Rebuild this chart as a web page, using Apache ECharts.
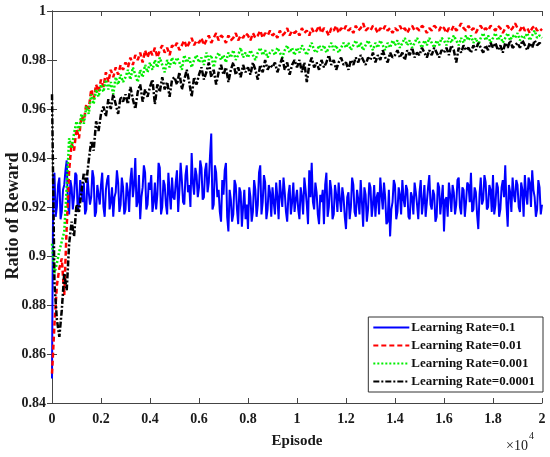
<!DOCTYPE html>
<html>
<head>
<meta charset="utf-8">
<script src="https://cdn.jsdelivr.net/npm/echarts@6/dist/echarts.min.js"></script>
<style>html,body{margin:0;padding:0;background:#fff;}#c{width:550px;height:457px;}</style>
</head>
<body>
<div id="c"></div>
<script>
// Sample episodes: blue curve every 50 episodes, others every 100 episodes
const episodesFine = [];
for (let i = 0; i <= 400; i++) episodesFine.push(i * 50);
const episodes = [];
for (let i = 0; i <= 200; i++) episodes.push(i * 100);

const seriesNames = ['Learning Rate=0.1', 'Learning Rate=0.01', 'Learning Rate=0.001', 'Learning Rate=0.0001'];

const lr01 = [
0.850,0.931,0.934,0.916,0.920,0.929,0.932,0.915,0.918,0.927,0.929,0.935,0.939,0.921,0.917,0.931,0.928,0.919,0.924,0.934,
0.933,0.918,0.921,0.931,0.927,0.922,0.930,0.917,0.919,0.932,0.926,0.921,0.924,0.935,0.932,0.916,0.918,0.929,0.925,0.921,
0.929,0.934,0.920,0.916,0.927,0.931,0.933,0.919,0.922,0.928,0.916,0.924,0.926,0.935,0.930,0.918,0.921,0.932,0.928,0.917,
0.919,0.930,0.926,0.918,0.931,0.936,0.924,0.929,0.940,0.920,0.922,0.933,0.915,0.924,0.928,0.937,0.934,0.919,0.921,0.930,
0.927,0.933,0.918,0.922,0.930,0.919,0.925,0.938,0.936,0.917,0.920,0.931,0.929,0.921,0.917,0.934,0.926,0.919,0.932,0.924,
0.923,0.930,0.935,0.918,0.927,0.938,0.931,0.922,0.921,0.933,0.937,0.926,0.929,0.920,0.942,0.930,0.925,0.936,0.933,0.924,
0.928,0.939,0.936,0.923,0.924,0.935,0.938,0.926,0.930,0.941,0.950,0.919,0.921,0.937,0.934,0.924,0.927,0.918,0.914,0.931,
0.925,0.935,0.938,0.916,0.910,0.927,0.923,0.914,0.917,0.931,0.929,0.919,0.913,0.928,0.926,0.912,0.920,0.927,0.915,0.921,
0.911,0.928,0.924,0.914,0.918,0.931,0.927,0.916,0.921,0.934,0.937,0.917,0.922,0.933,0.930,0.915,0.919,0.929,0.926,0.916,
0.928,0.922,0.917,0.930,0.924,0.915,0.931,0.925,0.920,0.932,0.926,0.918,0.914,0.925,0.929,0.917,0.922,0.930,0.918,0.923,
0.927,0.919,0.915,0.928,0.924,0.917,0.932,0.927,0.921,0.913,0.935,0.924,0.938,0.922,0.919,0.930,0.926,0.917,0.913,0.925,
0.922,0.927,0.913,0.929,0.934,0.916,0.920,0.931,0.927,0.915,0.917,0.929,0.925,0.918,0.930,0.923,0.918,0.928,0.924,0.916,
0.911,0.924,0.926,0.915,0.920,0.932,0.929,0.918,0.916,0.927,0.923,0.917,0.931,0.922,0.912,0.928,0.925,0.914,0.919,0.930,
0.928,0.916,0.921,0.929,0.916,0.924,0.926,0.917,0.932,0.925,0.919,0.930,0.924,0.913,0.914,0.927,0.908,0.919,0.922,0.931,
0.929,0.915,0.918,0.928,0.925,0.917,0.931,0.923,0.920,0.929,0.927,0.916,0.915,0.926,0.924,0.917,0.930,0.926,0.921,0.915,
0.926,0.931,0.917,0.922,0.929,0.916,0.922,0.928,0.933,0.921,0.919,0.927,0.925,0.914,0.916,0.930,0.928,0.917,0.923,0.929,
0.910,0.923,0.924,0.916,0.930,0.925,0.918,0.929,0.926,0.917,0.921,0.931,0.932,0.920,0.917,0.928,0.927,0.916,0.922,0.930,
0.929,0.922,0.934,0.918,0.919,0.928,0.926,0.917,0.911,0.925,0.932,0.921,0.923,0.933,0.930,0.919,0.920,0.929,0.927,0.918,
0.933,0.917,0.921,0.930,0.928,0.916,0.919,0.928,0.931,0.924,0.937,0.921,0.912,0.929,0.926,0.918,0.932,0.925,0.922,0.931,
0.929,0.920,0.918,0.930,0.927,0.916,0.933,0.925,0.921,0.932,0.930,0.920,0.935,0.927,0.924,0.916,0.919,0.931,0.928,0.917,
0.921];

const lr001 = [
0.852,0.872,0.888,0.895,0.899,0.884,0.912,0.935,0.946,0.943,
0.952,0.948,0.957,0.955,0.962,0.960,0.968,0.964,0.970,0.967,
0.972,0.969,0.975,0.971,0.976,0.973,0.977,0.974,0.978,0.976,
0.979,0.977,0.981,0.978,0.982,0.980,0.983,0.979,0.984,0.981,
0.984,0.982,0.985,0.981,0.984,0.986,0.983,0.985,0.982,0.986,
0.985,0.987,0.984,0.986,0.988,0.985,0.987,0.989,0.986,0.988,
0.987,0.989,0.986,0.988,0.990,0.987,0.989,0.991,0.988,0.990,
0.989,0.987,0.990,0.988,0.989,0.991,0.988,0.990,0.989,0.991,
0.990,0.988,0.991,0.989,0.990,0.992,0.989,0.991,0.990,0.992,
0.990,0.991,0.989,0.992,0.990,0.991,0.993,0.990,0.992,0.991,
0.992,0.990,0.993,0.991,0.992,0.990,0.993,0.991,0.992,0.994,
0.991,0.993,0.992,0.990,0.993,0.992,0.994,0.991,0.993,0.992,
0.994,0.992,0.993,0.991,0.994,0.992,0.993,0.995,0.992,0.993,
0.992,0.994,0.993,0.991,0.993,0.992,0.994,0.992,0.993,0.991,
0.993,0.992,0.994,0.992,0.993,0.991,0.993,0.994,0.992,0.993,
0.992,0.994,0.993,0.991,0.993,0.992,0.994,0.993,0.992,0.994,
0.993,0.991,0.993,0.992,0.994,0.992,0.993,0.995,0.993,0.992,
0.994,0.992,0.993,0.991,0.993,0.994,0.992,0.993,0.992,0.994,
0.993,0.992,0.994,0.993,0.991,0.993,0.994,0.992,0.993,0.995,
0.993,0.992,0.994,0.992,0.993,0.991,0.993,0.994,0.992,0.993,
0.992];

const lr0001 = [
0.905,0.893,0.897,0.902,0.906,0.910,0.928,0.948,0.944,0.950,
0.955,0.951,0.958,0.954,0.961,0.958,0.966,0.962,0.968,0.965,
0.970,0.967,0.972,0.968,0.971,0.966,0.973,0.970,0.974,0.971,
0.973,0.976,0.972,0.977,0.974,0.971,0.976,0.973,0.978,0.975,
0.979,0.976,0.980,0.977,0.981,0.978,0.975,0.980,0.977,0.981,
0.978,0.981,0.979,0.976,0.982,0.979,0.981,0.977,0.980,0.982,
0.979,0.981,0.978,0.983,0.980,0.982,0.977,0.981,0.983,0.980,
0.982,0.979,0.983,0.981,0.984,0.980,0.982,0.985,0.981,0.983,
0.981,0.984,0.982,0.980,0.983,0.985,0.982,0.984,0.981,0.983,
0.984,0.982,0.985,0.983,0.981,0.984,0.986,0.983,0.985,0.982,
0.985,0.983,0.986,0.984,0.982,0.985,0.987,0.984,0.983,0.986,
0.984,0.986,0.983,0.985,0.987,0.984,0.986,0.983,0.985,0.987,
0.985,0.987,0.984,0.986,0.988,0.985,0.987,0.984,0.986,0.988,
0.986,0.984,0.987,0.985,0.988,0.986,0.984,0.987,0.985,0.988,
0.986,0.988,0.985,0.987,0.989,0.986,0.988,0.985,0.987,0.989,
0.987,0.985,0.988,0.986,0.989,0.987,0.985,0.988,0.986,0.989,
0.988,0.986,0.989,0.987,0.990,0.988,0.986,0.989,0.987,0.990,
0.988,0.990,0.987,0.989,0.986,0.989,0.991,0.988,0.990,0.987,
0.989,0.991,0.988,0.990,0.987,0.989,0.991,0.988,0.990,0.989,
0.991,0.988,0.990,0.989,0.991,0.988,0.990,0.992,0.989,0.990,
0.989];

const lr00001 = [
0.966,0.889,0.874,0.867,0.878,0.893,0.886,0.905,0.914,0.908,
0.921,0.918,0.926,0.934,0.930,0.939,0.947,0.943,0.955,0.951,
0.958,0.961,0.957,0.964,0.960,0.966,0.962,0.958,0.965,0.963,
0.966,0.962,0.969,0.964,0.960,0.967,0.970,0.963,0.968,0.965,
0.969,0.972,0.962,0.970,0.967,0.973,0.968,0.971,0.965,0.972,
0.973,0.970,0.975,0.968,0.972,0.976,0.971,0.965,0.973,0.970,
0.974,0.977,0.972,0.975,0.979,0.973,0.976,0.970,0.975,0.978,
0.974,0.977,0.971,0.976,0.979,0.974,0.977,0.973,0.978,0.975,
0.977,0.974,0.979,0.976,0.972,0.978,0.975,0.980,0.976,0.978,
0.977,0.979,0.975,0.978,0.981,0.976,0.979,0.974,0.978,0.980,
0.977,0.980,0.975,0.979,0.971,0.978,0.981,0.977,0.979,0.976,
0.980,0.977,0.979,0.982,0.978,0.980,0.976,0.979,0.981,0.978,
0.979,0.976,0.980,0.978,0.981,0.979,0.982,0.980,0.978,0.981,
0.980,0.983,0.979,0.982,0.980,0.984,0.981,0.979,0.983,0.981,
0.982,0.984,0.981,0.983,0.980,0.984,0.982,0.985,0.981,0.983,
0.982,0.985,0.983,0.981,0.984,0.982,0.985,0.983,0.981,0.984,
0.983,0.985,0.982,0.986,0.984,0.979,0.985,0.983,0.986,0.984,
0.985,0.983,0.986,0.984,0.987,0.985,0.983,0.986,0.984,0.987,
0.985,0.987,0.984,0.986,0.983,0.987,0.985,0.988,0.985,0.986,
0.987,0.985,0.988,0.986,0.984,0.987,0.985,0.988,0.986,0.987,
0.986];

const xTickLabels = ['0','0.2','0.4','0.6','0.8','1','1.2','1.4','1.6','1.8','2'];

function pairs(xs, ys) { return xs.map((x, i) => [x, ys[i]]); }

const FONT = 'Liberation Serif';
const axisColor = '#444';
const chart = echarts.init(document.getElementById('c'), null, {renderer: 'canvas'});

const lab = {fontFamily: FONT, fontWeight: 'bold', fontSize: 14, color: '#1a1a1a'};

chart.setOption({
  animation: false,
  backgroundColor: '#fff',
  grid: {left: 52, right: 8, top: 11, bottom: 54, containLabel: false, outerBoundsMode: 'none'},
  xAxis: [{
    type: 'value', min: 0, max: 20000, interval: 2000,
    name: 'Episode', nameLocation: 'middle', nameGap: 31, nameMoveOverlap: false,
    nameTextStyle: {fontFamily: FONT, fontWeight: 'bold', fontSize: 15, color: '#1a1a1a'},
    axisLine: {show: true, lineStyle: {color: axisColor, width: 1}},
    axisTick: {show: true, inside: true, length: 5, lineStyle: {color: axisColor}},
    axisLabel: Object.assign({margin: 9, formatter: (v) => xTickLabels[Math.round(v / 2000)]}, lab),
    splitLine: {show: false}
  }, {
    type: 'value', min: 0, max: 20000, interval: 2000, position: 'top',
    axisLine: {show: true, lineStyle: {color: axisColor, width: 1}},
    axisTick: {show: true, inside: true, length: 5, lineStyle: {color: axisColor}},
    axisLabel: {show: false}, splitLine: {show: false}
  }],
  yAxis: [{
    type: 'value', min: 0.84, max: 1, interval: 0.02,
    name: 'Ratio of Reward', nameLocation: 'middle', nameGap: 30, nameMoveOverlap: false,
    nameTextStyle: {fontFamily: FONT, fontWeight: 'bold', fontSize: 18, color: '#1a1a1a', padding: [0, 18, 0, 0]},
    axisLine: {show: true, lineStyle: {color: axisColor, width: 1}},
    axisTick: {show: true, inside: true, length: 5, lineStyle: {color: axisColor}},
    axisLabel: Object.assign({margin: 6, formatter: (v) => String(+v.toFixed(2))}, lab),
    splitLine: {show: false}
  }, {
    type: 'value', min: 0.84, max: 1, interval: 0.02, position: 'right',
    axisLine: {show: true, lineStyle: {color: axisColor, width: 1}},
    axisTick: {show: true, inside: true, length: 5, lineStyle: {color: axisColor}},
    axisLabel: {show: false}, splitLine: {show: false}
  }],
  legend: {
    orient: 'vertical', right: 7, top: 317,
    itemWidth: 36, itemHeight: 12, itemGap: 5,
    padding: [4, 8, 4, 4],
    backgroundColor: '#fff', borderColor: '#333', borderWidth: 1, borderRadius: 0,
    itemStyle: {opacity: 0},
    textStyle: {fontFamily: FONT, fontWeight: 'bold', fontSize: 13, lineHeight: 13, color: '#111', padding: [0, 0, 0, -3]},
    data: seriesNames
  },
  graphic: [{
    type: 'text', left: 506, top: 431,
    style: {
      text: '{a|×10}{b|4}',
      rich: {
        a: {fontFamily: FONT, fontSize: 14, fill: '#1a1a1a', verticalAlign: 'bottom', lineHeight: 22},
        b: {fontFamily: FONT, fontSize: 10, fill: '#1a1a1a', verticalAlign: 'top', lineHeight: 22, padding: [0,0,10,1]}
      }
    }
  }],
  series: [
    {name: seriesNames[0], type: 'line', symbol: 'none', data: pairs(episodesFine, lr01),
     lineStyle: {color: '#0000ff', width: 2, type: 'solid'}, itemStyle: {color: '#0000ff'}},
    {name: seriesNames[1], type: 'line', symbol: 'none', data: pairs(episodes, lr001),
     lineStyle: {color: '#ff0000', width: 2.5, type: [5, 3]}, itemStyle: {color: '#ff0000'}},
    {name: seriesNames[2], type: 'line', symbol: 'none', data: pairs(episodes, lr0001),
     lineStyle: {color: '#00ee00', width: 2.5, type: [2, 2]}, itemStyle: {color: '#00ee00'}},
    {name: seriesNames[3], type: 'line', symbol: 'none', data: pairs(episodes, lr00001),
     lineStyle: {color: '#000000', width: 2.5, type: [6, 2, 2, 2]}, itemStyle: {color: '#000000'}}
  ]
});
</script>
</body>
</html>
